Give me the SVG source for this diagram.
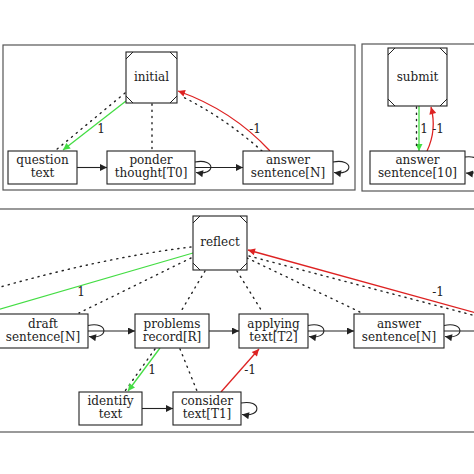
<svg xmlns="http://www.w3.org/2000/svg" width="474" height="474" viewBox="0 0 474 474">
<style>
.cl{fill:none;stroke:#555;stroke-width:1.2}
.nd{fill:#fff;stroke:#222;stroke-width:1.1}
.cr{stroke:#222;stroke-width:1;fill:none}
.t{font-family:"DejaVu Serif",serif;font-size:12px;fill:#222;text-anchor:middle}
.e{fill:none;stroke:#222;stroke-width:1.1}
.d{fill:none;stroke:#222;stroke-width:1.4;stroke-dasharray:1.2 5;stroke-linecap:round}
.g{fill:none;stroke:#44dd44;stroke-width:1.3}
.r{fill:none;stroke:#dd2222;stroke-width:1.3}
</style>
<defs>
<marker id="ak" viewBox="0 0 10 10" refX="10" refY="5" markerWidth="9" markerHeight="7" orient="auto" markerUnits="userSpaceOnUse"><path d="M0,0L10,5L0,10z" fill="#222"/></marker>
<marker id="ag" viewBox="0 0 10 10" refX="10" refY="5" markerWidth="9" markerHeight="7" orient="auto" markerUnits="userSpaceOnUse"><path d="M0,0L10,5L0,10z" fill="#44dd44"/></marker>
<marker id="ar" viewBox="0 0 10 10" refX="10" refY="5" markerWidth="9" markerHeight="7" orient="auto" markerUnits="userSpaceOnUse"><path d="M0,0L10,5L0,10z" fill="#dd2222"/></marker>
</defs>
<rect width="474" height="474" fill="#fff"/>
<g id="clusters">
<rect class="cl" x="3" y="45" width="352" height="145"/>
<rect class="cl" x="362" y="44" width="130" height="147"/>
<rect class="cl" x="-20" y="209" width="514" height="223"/>
</g>
<g id="connectors">
<path class="e" d="M77,167.5H107" marker-end="url(#ak)"/>
<path class="e" d="M195,167.5H243" marker-end="url(#ak)"/>
<path class="e" d="M195,162C216,158 216,176 196,172.5" marker-end="url(#ak)"/>
<path class="e" d="M333,162C354,158 354,176 334,172.5" marker-end="url(#ak)"/>
<path class="g" d="M126,101L63,150" marker-end="url(#ag)"/>
<path class="d" d="M125,93L56,150"/>
<path class="d" d="M152,104V151"/>
<path class="r" d="M270,151Q232,110 178,91" marker-end="url(#ar)"/>
<path class="d" d="M262,151Q225,118 181,96"/>
<path class="g" d="M419,106V151" marker-end="url(#ag)"/>
<path class="d" d="M416.5,107V150"/>
<path class="r" d="M427,151Q437,130 431,107" marker-end="url(#ar)"/>
<path class="e" d="M465,157C486,154 486,176 466,173" marker-end="url(#ak)"/>
<path class="e" d="M88,331H135" marker-end="url(#ak)"/>
<path class="e" d="M88,325.5C109,321 109,340 89,336.5" marker-end="url(#ak)"/>
<path class="e" d="M209,331H239" marker-end="url(#ak)"/>
<path class="e" d="M308,331H354" marker-end="url(#ak)"/>
<path class="e" d="M308,325.5C329,321 329,340 309,336.5" marker-end="url(#ak)"/>
<path class="e" d="M444,331H480"/>
<path class="e" d="M444,325.5C465,321 465,340 445,336.5" marker-end="url(#ak)"/>
<path class="e" d="M142,408.5H173" marker-end="url(#ak)"/>
<path class="e" d="M241,403C262,399 262,418 242,414.5" marker-end="url(#ak)"/>
<path class="g" d="M193,253L-10,312"/>
<path class="d" d="M191,247Q100,258 -10,290"/>
<path class="d" d="M191,258L79,313"/>
<path class="d" d="M205,271L180,313"/>
<path class="d" d="M155,349L125,391"/>
<path class="g" d="M160,348L128,391" marker-end="url(#ag)"/>
<path class="d" d="M180,349L197,391"/>
<path class="r" d="M221,392L259,349" marker-end="url(#ar)"/>
<path class="d" d="M237,271L263,313"/>
<path class="d" d="M247,258L362,313"/>
<path class="d" d="M249,256L476,316"/>
<path class="r" d="M480,314L248,250" marker-end="url(#ar)"/>
</g>
<g id="labels">
<text class="t" x="101" y="133">1</text>
<text class="t" x="255" y="133">-1</text>
<text class="t" x="424" y="133">1</text>
<text class="t" x="438" y="133">-1</text>
<text class="t" x="81" y="296">1</text>
<text class="t" x="152" y="374">1</text>
<text class="t" x="250" y="374">-1</text>
<text class="t" x="438" y="296">-1</text>
</g>
<g id="initial">
<rect class="nd" x="126" y="52" width="51" height="51"/>
<path class="cr" d="M126,59L133,52M170,52L177,59M126,96L133,103M170,103L177,96"/>
<text class="t" x="151.5" y="81">initial</text>
</g>
<g id="question">
<rect class="nd" x="8" y="151" width="69" height="33"/>
<text class="t" x="42.5" y="164">question</text>
<text class="t" x="42.5" y="177">text</text>
</g>
<g id="ponder">
<rect class="nd" x="107" y="151" width="88" height="33"/>
<text class="t" x="151" y="164">ponder</text>
<text class="t" x="151" y="177">thought[T0]</text>
</g>
<g id="answer1">
<rect class="nd" x="243" y="151" width="90" height="33"/>
<text class="t" x="288" y="164">answer</text>
<text class="t" x="288" y="177">sentence[N]</text>
</g>
<g id="submit">
<rect class="nd" x="388" y="48" width="59" height="58"/>
<path class="cr" d="M388,55L395,48M440,48L447,55M388,99L395,106M440,106L447,99"/>
<text class="t" x="417.5" y="81">submit</text>
</g>
<g id="answer10">
<rect class="nd" x="370" y="151" width="95" height="33"/>
<text class="t" x="417.5" y="164">answer</text>
<text class="t" x="417.5" y="177">sentence[10]</text>
</g>
<g id="reflect">
<rect class="nd" x="193" y="216" width="54" height="54"/>
<path class="cr" d="M193,223L200,216M240,216L247,223M193,263L200,270M240,270L247,263"/>
<text class="t" x="220" y="246">reflect</text>
</g>
<g id="draft">
<rect class="nd" x="-2" y="314" width="90" height="34"/>
<text class="t" x="43" y="327.5">draft</text>
<text class="t" x="43" y="340.5">sentence[N]</text>
</g>
<g id="problems">
<rect class="nd" x="135" y="314" width="74" height="34"/>
<text class="t" x="172" y="327.5">problems</text>
<text class="t" x="172" y="340.5">record[R]</text>
</g>
<g id="applying">
<rect class="nd" x="239" y="314" width="69" height="34"/>
<text class="t" x="273.5" y="327.5">applying</text>
<text class="t" x="273.5" y="340.5">text[T2]</text>
</g>
<g id="answer2">
<rect class="nd" x="354" y="314" width="90" height="34"/>
<text class="t" x="399" y="327.5">answer</text>
<text class="t" x="399" y="340.5">sentence[N]</text>
</g>
<g id="identify">
<rect class="nd" x="79" y="392" width="63" height="33"/>
<text class="t" x="110.5" y="405">identify</text>
<text class="t" x="110.5" y="418">text</text>
</g>
<g id="consider">
<rect class="nd" x="173" y="392" width="68" height="33"/>
<text class="t" x="207" y="405">consider</text>
<text class="t" x="207" y="418">text[T1]</text>
</g>
</svg>
